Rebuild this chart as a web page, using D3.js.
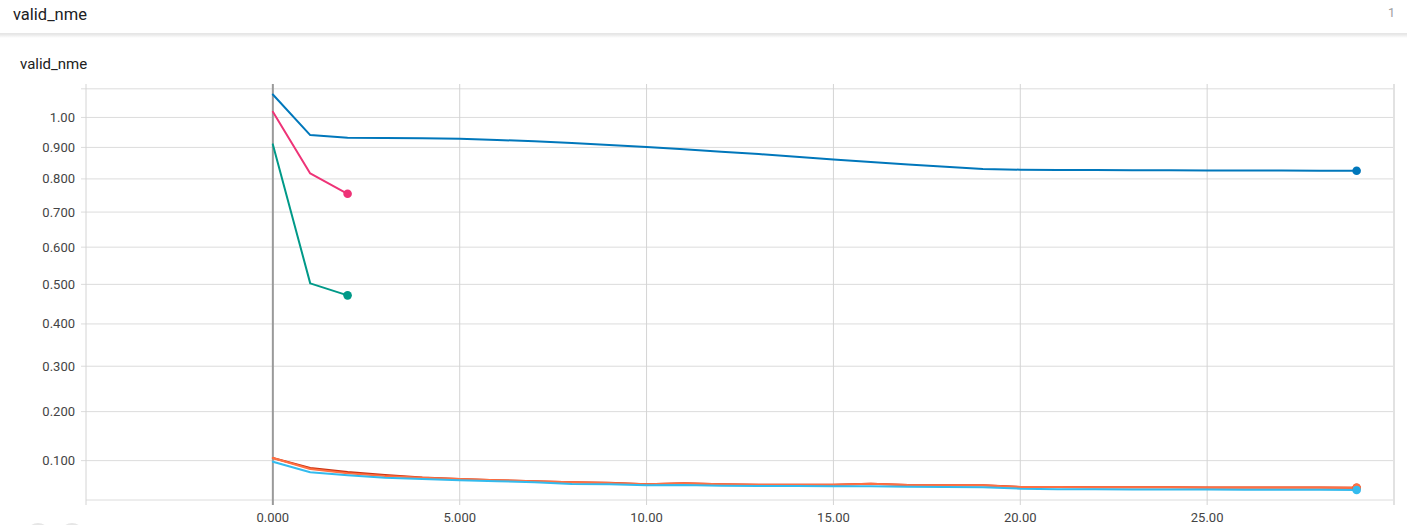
<!DOCTYPE html>
<html>
<head>
<meta charset="utf-8">
<script src="https://cdn.jsdelivr.net/npm/d3@7/dist/d3.min.js"></script>
<style>
  html, body { margin: 0; padding: 0; background: #fff; overflow: hidden; }
  body { width: 1407px; height: 525px; font-family: Roboto, "Noto Sans", sans-serif; }
  svg { display: block; }
</style>
</head>
<body>
<svg id="chart" width="1407" height="525"></svg>
<script>
// ---------------- data ----------------
const steps = d3.range(0, 30);
const stepsShort = [0, 1, 2];

const blueValues = [1.080, 0.9404, 0.9315, 0.9305, 0.9296, 0.9281, 0.9245, 0.9199, 0.9143, 0.9081,
                    0.9009, 0.8938, 0.8860, 0.8783, 0.8699, 0.8613, 0.8533, 0.8454, 0.8378, 0.8306,
                    0.8287, 0.8277, 0.8274, 0.8272, 0.8270, 0.8265, 0.8262, 0.8260, 0.8257, 0.8255];
const pinkValues = [1.0192, 0.8171, 0.7545];
const tealValues = [0.9098, 0.5026, 0.4716];
const redValues = [0.1050, 0.0857, 0.0779, 0.0722, 0.0675, 0.0647, 0.0622, 0.0603, 0.0584, 0.0572,
                   0.0547, 0.0566, 0.0547, 0.0538, 0.0537, 0.0537, 0.0557, 0.0533, 0.0527, 0.0526,
                   0.0495, 0.0494, 0.0490, 0.0489, 0.0488, 0.0486, 0.0485, 0.0484, 0.0482, 0.0481];
const orangeValues = [0.1052, 0.0837, 0.0754, 0.0703, 0.0670, 0.0645, 0.0621, 0.0602, 0.0583, 0.0570,
                      0.0545, 0.0564, 0.0545, 0.0537, 0.0537, 0.0537, 0.0556, 0.0532, 0.0526, 0.0526,
                      0.0494, 0.0494, 0.0489, 0.0488, 0.0487, 0.0486, 0.0485, 0.0484, 0.0482, 0.0481];
const cyanValues = [0.0979, 0.0774, 0.0716, 0.0670, 0.0645, 0.0621, 0.0602, 0.0583, 0.0551, 0.0545,
                    0.0526, 0.0532, 0.0519, 0.0513, 0.0513, 0.0507, 0.0507, 0.0500, 0.0494, 0.0489,
                    0.0462, 0.0451, 0.0451, 0.0449, 0.0447, 0.0445, 0.0443, 0.0441, 0.0440, 0.0438];

const xTicks = [-5, 0, 5, 10, 15, 20, 25, 30];
const xTickLabels = ["", "0.000", "5.000", "10.00", "15.00", "20.00", "25.00", ""];
const yTicks = [0.1, 0.2, 0.3, 0.4, 0.5, 0.6, 0.7, 0.8, 0.9, 1.0, 1.1];
const yTickLabels = ["0.100", "0.200", "0.300", "0.400", "0.500", "0.600", "0.700", "0.800", "0.900", "1.00", ""];

const xDomain = [-5, 30];
const yDomain = [0.0252, 1.1174];

const series = [
  { name: "red", color: "#cc3311", x: steps, y: redValues },
  { name: "orange", color: "#ff7043", x: steps, y: orangeValues },
  { name: "cyan", color: "#33bbee", x: steps, y: cyanValues },
  { name: "blue", color: "#0077bb", x: steps, y: blueValues },
  { name: "pink", color: "#ee3377", x: stepsShort, y: pinkValues },
  { name: "teal", color: "#009988", x: stepsShort, y: tealValues }
];

// ---------------- layout ----------------
const plotL = 86, plotR = 1394, plotT = 84, plotB = 500;
const svg = d3.select("#chart");

// header bar
const defs = svg.append("defs");
const grad = defs.append("linearGradient").attr("id", "shadow").attr("x1", 0).attr("x2", 0).attr("y1", 0).attr("y2", 1);
grad.append("stop").attr("offset", "0%").attr("stop-color", "#000").attr("stop-opacity", 0.10);
grad.append("stop").attr("offset", "100%").attr("stop-color", "#000").attr("stop-opacity", 0);
svg.append("rect").attr("x", 0).attr("y", 0).attr("width", 1407).attr("height", 33).attr("fill", "#fff");
svg.append("line").attr("x1", 0).attr("x2", 1407).attr("y1", 33.5).attr("y2", 33.5).attr("stroke", "#e6e6e6");
svg.append("rect").attr("x", 0).attr("y", 34).attr("width", 1407).attr("height", 4).attr("fill", "url(#shadow)");
svg.append("text").attr("x", 13).attr("y", 20).attr("font-size", 16.5).attr("fill", "#202124").text("valid_nme");
svg.append("text").attr("x", 1395).attr("y", 17).attr("text-anchor", "end").attr("font-size", 12.5).attr("fill", "#9e9e9e").text("1");

svg.append("text").attr("x", 20).attr("y", 69).attr("font-size", 15).attr("fill", "#212121").text("valid_nme");

// scales (TensorBoard modified log: log10(0.9*v + 1) for v < 10)
const adj = v => 0.9 * v + 1;
const x = d3.scaleLinear().domain(xDomain).range([plotL, plotR]);
const yLog = d3.scaleLog().domain(yDomain.map(adj)).range([plotB, plotT]);
const y = v => yLog(adj(v));

const grid = svg.append("g");
grid.selectAll("line.h").data(yTicks).enter().append("line")
  .attr("x1", plotL - 5).attr("x2", plotR)
  .attr("y1", d => y(d)).attr("y2", d => y(d))
  .attr("stroke", "#dcdcdc").attr("stroke-width", 1);
grid.append("line").attr("x1", plotL).attr("x2", plotR).attr("y1", plotB).attr("y2", plotB)
  .attr("stroke", "#dcdcdc").attr("stroke-width", 1);
grid.selectAll("line.v").data(xTicks).enter().append("line")
  .attr("x1", d => x(d)).attr("x2", d => x(d))
  .attr("y1", plotT).attr("y2", plotB + 5)
  .attr("stroke", d => d === 0 ? "#9a9a9a" : (d === 30 ? "#e2e2e2" : "#d4d4d4"))
  .attr("stroke-width", d => (d === 0 || d === 30) ? 2 : 1);

// tick labels
svg.append("g").selectAll("text").data(yTicks).enter().append("text")
  .attr("x", 75).attr("y", d => y(d) + 4.5)
  .attr("text-anchor", "end").attr("font-size", 13).attr("fill", "#444")
  .text((d, i) => yTickLabels[i]);
svg.append("g").selectAll("text").data(xTicks).enter().append("text")
  .attr("x", d => x(d)).attr("y", 522)
  .attr("text-anchor", "middle").attr("font-size", 13).attr("fill", "#444")
  .text((d, i) => xTickLabels[i]);

// lines
const lineGen = d3.line().x(d => x(d[0])).y(d => y(d[1]));
const lines = svg.append("g");
series.forEach(s => {
  const pts = s.x.map((xv, i) => [xv, s.y[i]]);
  lines.append("path").datum(pts)
    .attr("d", lineGen).attr("fill", "none")
    .attr("stroke", s.color).attr("stroke-width", 2)
    .attr("stroke-linejoin", "round").attr("stroke-linecap", "round");
});
series.forEach(s => {
  const n = s.x.length - 1;
  lines.append("circle").attr("cx", x(s.x[n])).attr("cy", y(s.y[n])).attr("r", 4.3).attr("fill", s.color);
});

// faint cut-off icons at bottom left
svg.append("circle").attr("cx", 38).attr("cy", 535).attr("r", 11).attr("fill", "none").attr("stroke", "#e6e6e6").attr("stroke-width", 2);
svg.append("circle").attr("cx", 72).attr("cy", 535).attr("r", 11).attr("fill", "none").attr("stroke", "#e6e6e6").attr("stroke-width", 2);
</script>
</body>
</html>
